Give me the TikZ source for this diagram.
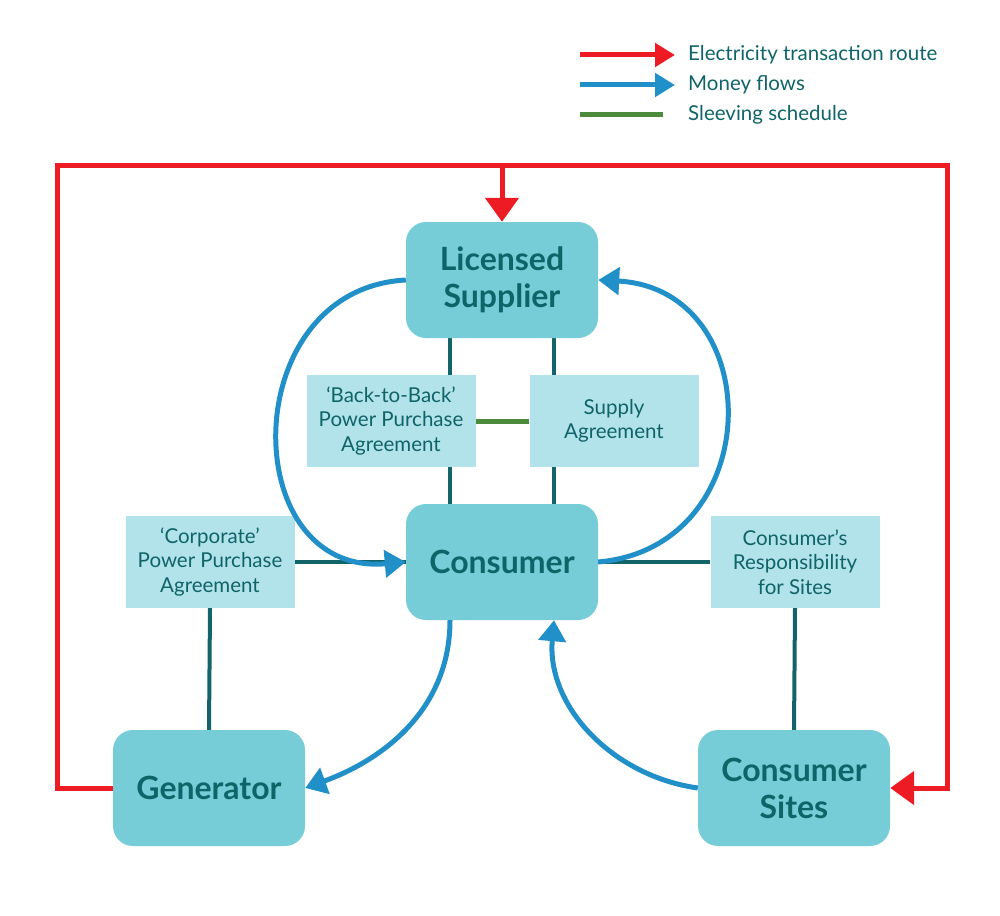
\documentclass[tikz,border=0pt]{standalone}
\usepackage{fontspec}
\setmainfont{Lato}
\usepackage{tikz}
\usetikzlibrary{positioning, arrows.meta, backgrounds}
\definecolor{powerred}{HTML}{ED1C24}
\definecolor{moneyblue}{HTML}{2290C8}
\definecolor{sleevegreen}{HTML}{4B8B3B}
\definecolor{linkteal}{HTML}{136468}
\definecolor{tealtext}{HTML}{0F6468}
\definecolor{partyfill}{HTML}{76CDD8}
\definecolor{agreefill}{HTML}{B2E2EA}

\begin{document}
\begin{tikzpicture}[
    x=1pt, y=-1pt,
    party/.style={fill=partyfill, rounded corners=20pt, text=tealtext, align=center, minimum width=192pt, minimum height=116pt, inner sep=0pt, font=\fontsize{32}{37}\selectfont\bfseries},
    agreement/.style={fill=agreefill, text=tealtext, align=center, minimum width=169pt, minimum height=92pt, inner sep=0pt, font=\fontsize{20.5}{24.5}\selectfont},
    legend/.style={text=tealtext, anchor=west, inner sep=0pt, font=\fontsize{20.5}{24}\selectfont},
    power/.style={-{Triangle[length=24pt, width=33pt]}, powerred, line width=5pt},
    money/.style={-{Triangle[length=21pt, width=27pt]}, moneyblue, line width=5pt},
    keypower/.style={-{Triangle[length=20pt, width=23pt]}, powerred, line width=5pt},
    keymoney/.style={-{Triangle[length=20pt, width=23pt]}, moneyblue, line width=5pt},
    link/.style={linkteal, line width=4pt},
    sleeve/.style={sleevegreen, line width=5pt}
  ]
    \useasboundingbox (0,0) rectangle (1000,915);
    % parties
    \node[party] (sup)   at (502,280) {Licensed\\Supplier};
    \node[party] (con)   at (502,562) {Consumer};
    \node[party] (gen)   at (209,788) {Generator};
    \node[party] (sites) at (794,788) {Consumer\\Sites};
    % agreements
    \node[agreement] (b2b)    at (391,421) {‘Back-to-Back’\\Power Purchase\\Agreement};
    \node[agreement] (supply) at (614,421) {Supply\\Agreement};
    \node[agreement] (corp)   at (210,562) {‘Corporate’\\Power Purchase\\Agreement};
    \node[agreement] (resp)   at (795,562) {Consumer’s\\Responsibility\\for Sites};
    % legend
    \node[legend] (lgpower)  at (688,55)  {Electricity transaction route};
    \node[legend] (lgmoney)  at (688,85)  {Money flows};
    \node[legend] (lgsleeve) at (688,115) {Sleeving schedule};
    \draw[keypower] (580,55)  -- ([xshift=-13pt]lgpower.west);
    \draw[keymoney] (580,85)  -- ([xshift=-13pt]lgmoney.west);
    \draw[sleeve]   (580,115) -- ([xshift=-25pt]lgsleeve.west);
    % contract links
    \begin{scope}[on background layer]
      \draw[link] ([xshift=-52pt]sup.south) -- ([xshift=-52pt]con.north);
      \draw[link] ([xshift=52pt]sup.south) -- ([xshift=52pt]con.north);
      \draw[link] (corp.east) -- (con.west);
      \draw[link] (corp.south) -- (gen.north);
      \draw[link] (con.east) -- (resp.west);
      \draw[link] (resp.south) -- (sites.north);
    \end{scope}
    \draw[sleeve] (b2b.east) -- (supply.west);
    % electricity route
    \draw[power] (gen.west) -- ++(-55,0) |- (947,165) |- (sites.east);
    \draw[power] (sup.north |- 0,162.5) -- (sup.north);
    % money flows
    \draw[money] (sup.west) to[out=183, in=185, looseness=1.55] (con.west);
    \draw[money] (con.east) to[out=5, in=-3, looseness=1.55] (sup.east);
    \draw[money] ([xshift=-52pt]con.south) to[out=-90, in=20] (gen.east);
    \draw[money] (sites.west) to[out=172, in=-95] ([xshift=52pt]con.south);
  \end{tikzpicture}
\end{document}
